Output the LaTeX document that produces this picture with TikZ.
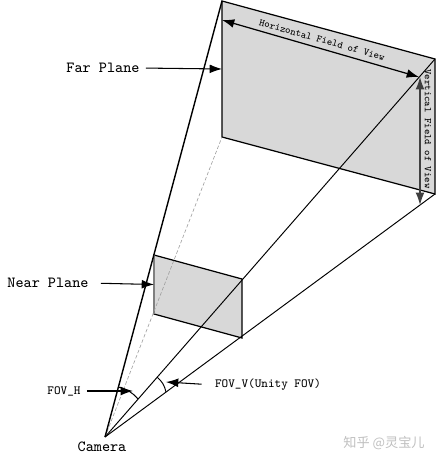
\documentclass[tikz,border=0pt]{standalone}
\usepackage{fontspec}
\newfontfamily\cjkfont{Noto Sans CJK SC}
\usepackage{xcolor}
\usepackage{tikz}
\usetikzlibrary{arrows.meta,positioning,calc}
\definecolor{planegray}{HTML}{D8D8D8}

\tikzset{
  plane/.style={fill=planegray, draw=black, line width=0.7pt, line join=miter},
  ray/.style={black, line width=0.55pt},
  pointer/.style={-{Latex[length=7pt,width=5pt]}, line width=0.6pt},
  twoway/.style={{Latex[length=7pt,width=5pt]}-{Latex[length=7pt,width=5pt]}, line width=0.7pt},
  biglabel/.style={font=\ttfamily\fontsize{8.8}{10}\selectfont, inner sep=0pt},
  midlabel/.style={font=\ttfamily\fontsize{7.1}{9}\selectfont, inner sep=0pt},
  tinylabel/.style={font=\ttfamily\fontsize{5.8}{7}\selectfont, inner sep=0pt}
}

\begin{document}
\begin{tikzpicture}[x=0.02cm, y=-0.02cm]
  \useasboundingbox (0,0) rectangle (437,463);

  % Corners of the frustum
  \coordinate (camera) at (105,437);
  \coordinate (farTL) at (222,1);
  \coordinate (farTR) at (435,59);
  \coordinate (farBR) at (435,194);
  \coordinate (farBL) at (222,137);
  \coordinate (nearTL) at (154,255);
  \coordinate (nearTR) at (242,279);
  \coordinate (nearBR) at (242,338);
  \coordinate (nearBL) at (154,314);

  % Far and near planes
  \draw[plane] (farTL) -- (farTR) -- (farBR) -- (farBL) -- cycle;
  \draw[plane] (nearTL) -- (nearTR) -- (nearBR) -- (nearBL) -- cycle;
  \draw[gray, line width=0.9pt] (nearTL) -- (nearBL);

  % Rays from the camera
  \draw[black!38, dash pattern=on 2pt off 1.2pt, line width=0.35pt] (camera) -- (farBL);
  \draw[black, line width=0.8pt] (camera) -- (farTL);
  \draw[ray] (camera) -- (farTR);
  \draw[ray] (camera) -- (farBR);

  % Field of view arrows
  \coordinate (hfovL) at (222,20);
  \coordinate (hfovR) at (419,77);
  \coordinate (vfovT) at (420,77);
  \coordinate (vfovB) at (420,205);
  \draw[twoway] (hfovL) -- (hfovR);
  \draw[twoway, black!75] (vfovT) -- (vfovB);
  \node[tinylabel, rotate=-16] (hfovtext) at (322,40) {Horizontal Field of View};
  \node[tinylabel, rotate=-90] (vfovtext) at (428,129) {Vertical Field of View};

  % Angle arcs
  \coordinate (arcHa) at (118,387);
  \coordinate (arcHb) at (138,399);
  \coordinate (arcVa) at (157,377);
  \coordinate (arcVb) at (166,392);
  \draw[ray] (arcHa) to[bend left=18] (arcHb);
  \draw[ray] (arcVa) to[bend left=18] (arcVb);

  % Labels
  \node[biglabel] (farlabel) at (103,68) {Far Plane};
  \node[biglabel] (nearlabel) at (48,283) {Near Plane};
  \node[midlabel] (fovh) at (64,391) {FOV\_H};
  \node[midlabel] (fovv) at (268,385) {FOV\_V(Unity FOV)};
  \node[biglabel] (cameralabel) at (102,447) {Camera};

  % Pointers
  \coordinate (farpt) at (222,69);
  \coordinate (nearpt) at (154,284.5);
  \coordinate (fovhpt) at (133,391);
  \coordinate (fovvpt) at (166,382);
  \draw[pointer, shorten <=3.4pt] (farlabel.east) -- (farpt);
  \draw[pointer, shorten <=6.8pt] (nearlabel.east) -- (nearpt);
  \draw[pointer, shorten <=3.4pt] (fovh.east) -- (fovhpt);
  \draw[pointer, shorten <=7.4pt] (fovv.west) -- (fovvpt);

  % Watermark
  \node[font=\cjkfont\fontsize{7.5}{9}\selectfont, text=black!25, inner sep=0pt] (mark) at (384,443) {知乎 @灵宝儿};
\end{tikzpicture}
\end{document}
